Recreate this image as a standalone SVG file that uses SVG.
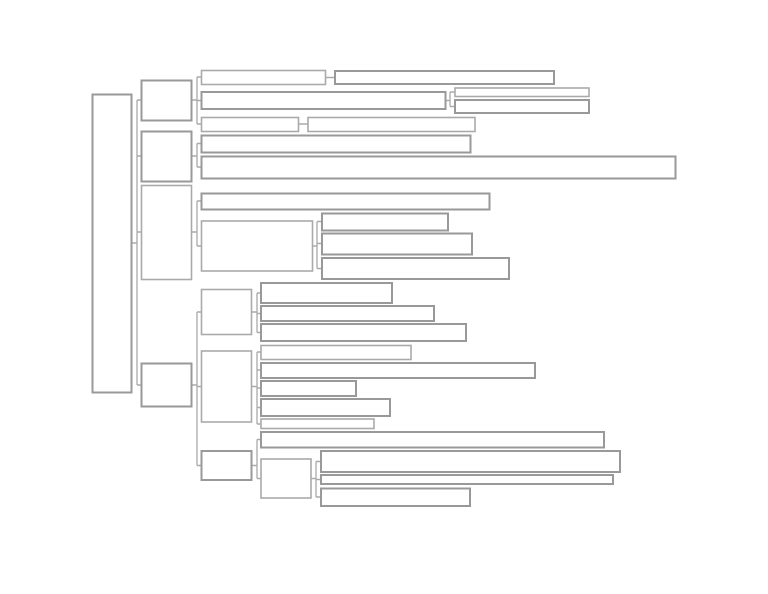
<svg xmlns="http://www.w3.org/2000/svg" width="768" height="594" viewBox="0 0 768 594">
<style>
.n{fill:#fff;stroke:#999;stroke-width:2}
.l{fill:#fff;stroke:#aaa;stroke-width:1.6}
.c{fill:none;stroke:#aaa;stroke-width:1.3}
</style>
<rect width="768" height="594" fill="#fff"/>
<g id="connectors">
<path class="c" d="M131 243H137M137 100V385M137 100H141M137 156H141M137 232H141M137 385H141"/>
<path class="c" d="M191 100H197M197 77V124M197 77H201M197 100.5H201M197 124H201M325 77.5H335M445 100.5H450M450 92V106.5M450 92H455M450 106.5H455M298 124H308"/>
<path class="c" d="M191 156H197M197 143.5V167M197 143.5H201M197 167H201"/>
<path class="c" d="M191 232H197M197 201V246M197 201H201M197 246H201M312 246H317M317 221.5V268.5M317 221.5H322M317 243.5H322M317 268.5H322"/>
<path class="c" d="M191 385H197M197 312V465.5M197 312H201M197 386.5H201M197 465.5H201"/>
<path class="c" d="M251 312H257M257 293V332.5M257 293H261M257 313.5H261M257 332.5H261"/>
<path class="c" d="M251 386.5H257M257 352V424M257 352H261M257 370H261M257 388H261M257 407.5H261M257 424H261"/>
<path class="c" d="M251 465.5H257M257 439.5V478.5M257 439.5H261M257 478.5H261M311 478.5H316M316 461.5V497M316 461.5H321M316 479.5H321M316 497H321"/>
</g>
<g id="root"><rect class="n" x="92.5" y="94.5" width="39" height="298"/></g>
<g id="A"><rect class="n" x="141.5" y="80.5" width="50" height="40"/></g>
<g id="B"><rect class="n" x="141.5" y="131.5" width="50" height="50"/></g>
<g id="C"><rect class="l" x="141.5" y="185.5" width="50" height="94"/></g>
<g id="D"><rect class="n" x="141.5" y="363.5" width="50" height="43"/></g>
<g id="A1"><rect class="l" x="201.5" y="70.5" width="124" height="14"/></g>
<g id="A1s"><rect class="n" x="335" y="71" width="219" height="13"/></g>
<g id="A2"><rect class="n" x="201.5" y="92" width="244" height="17"/></g>
<g id="A2a"><rect class="l" x="455" y="88" width="134" height="8.5"/></g>
<g id="A2b"><rect class="n" x="455" y="100" width="134" height="13"/></g>
<g id="A3"><rect class="l" x="201.5" y="117.5" width="97" height="14"/></g>
<g id="A3s"><rect class="l" x="308" y="117.5" width="167" height="14"/></g>
<g id="B1"><rect class="n" x="201.5" y="135.5" width="269" height="17"/></g>
<g id="B2"><rect class="n" x="201.5" y="156.5" width="474" height="22"/></g>
<g id="C1"><rect class="n" x="201.5" y="193.5" width="288" height="16"/></g>
<g id="C2"><rect class="l" x="201.5" y="221" width="111" height="50"/></g>
<g id="C2a"><rect class="n" x="322" y="213.5" width="126" height="17"/></g>
<g id="C2b"><rect class="n" x="322" y="233.5" width="150" height="21"/></g>
<g id="C2c"><rect class="n" x="322" y="258" width="187" height="21"/></g>
<g id="D1"><rect class="l" x="201.5" y="289.5" width="50" height="45"/></g>
<g id="D1a"><rect class="n" x="261" y="283" width="131" height="20"/></g>
<g id="D1b"><rect class="n" x="261" y="306" width="173" height="15"/></g>
<g id="D1c"><rect class="n" x="261" y="324" width="205" height="17"/></g>
<g id="D2"><rect class="l" x="201.5" y="351" width="50" height="71"/></g>
<g id="D2a"><rect class="l" x="261" y="345.5" width="150" height="14"/></g>
<g id="D2b"><rect class="n" x="261" y="363" width="274" height="15"/></g>
<g id="D2c"><rect class="n" x="261" y="381" width="95" height="15"/></g>
<g id="D2d"><rect class="n" x="261" y="399" width="129" height="17"/></g>
<g id="D2e"><rect class="l" x="261" y="419" width="113" height="9.5"/></g>
<g id="D3"><rect class="n" x="201.5" y="451" width="50" height="29"/></g>
<g id="D3a"><rect class="n" x="261" y="432" width="343" height="15.5"/></g>
<g id="D3b"><rect class="l" x="261" y="459" width="50" height="39"/></g>
<g id="D3b1"><rect class="n" x="321" y="451" width="299" height="21"/></g>
<g id="D3b2"><rect class="n" x="321" y="475" width="292" height="9"/></g>
<g id="D3b3"><rect class="n" x="321" y="488.5" width="149" height="17.5"/></g>
</svg>
